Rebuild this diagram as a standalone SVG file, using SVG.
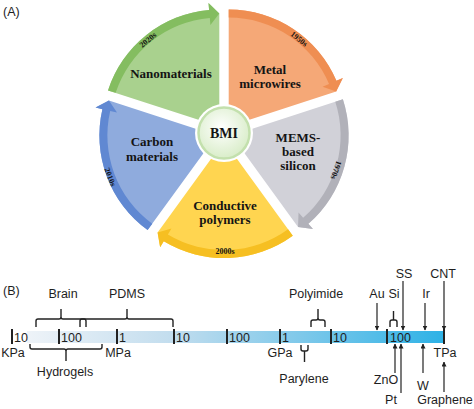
<svg xmlns="http://www.w3.org/2000/svg" width="474" height="409" viewBox="0 0 474 409">
<style>
.lab{font-family:"Liberation Serif","Times New Roman",serif;font-weight:bold;font-size:13px;fill:#141414;text-anchor:middle}
.yr{font-family:"Liberation Serif","Times New Roman",serif;font-weight:bold;font-size:8px;fill:#141414;text-anchor:middle;dominant-baseline:central}
.t{font-family:"Liberation Sans",Arial,sans-serif;font-size:12.5px;fill:#1e1e1e}
.tm{font-family:"Liberation Sans",Arial,sans-serif;font-size:12.5px;fill:#1e1e1e;text-anchor:middle}
.tk{stroke:#222;stroke-width:2}
.br{fill:none;stroke:#222;stroke-width:1.4;stroke-linejoin:round}
.ar{stroke:#222;stroke-width:1.2;fill:none}
</style>
<defs>
<marker id="ah" viewBox="0 0 10 10" refX="9" refY="5" markerWidth="5" markerHeight="5" orient="auto" markerUnits="userSpaceOnUse">
<path d="M0,0 L10,5 L0,10 Z" fill="#222"/>
</marker>
<linearGradient id="bar" x1="0" y1="0" x2="1" y2="0">
<stop offset="0" stop-color="#eef3f8"/>
<stop offset="0.35" stop-color="#c2ddee"/>
<stop offset="0.65" stop-color="#80c9ea"/>
<stop offset="1" stop-color="#2eb2e6"/>
</linearGradient>
<radialGradient id="bmi" cx="0.45" cy="0.4" r="0.6">
<stop offset="0" stop-color="#ffffff"/>
<stop offset="1" stop-color="#d9edc9"/>
</radialGradient>
</defs>

<text class="t" x="3" y="16">(A)</text>
<text class="t" x="3" y="295">(B)</text>

<g id="metal-microwires">
<path d="M228.70,126.53 L228.70,9.53 A117,117 0 0 1 336.40,80.82 L342.84,78.08 L336.17,91.61 Z" fill="#f5a877"/>
<path d="M228.70,9.53 A117,117 0 0 1 336.40,80.82 L342.84,78.08 L336.17,91.61 L322.59,86.68 L329.03,83.94 A109,109 0 0 0 228.70,17.53 Z" fill="#ef8e52"/>
<text class="lab" x="270" y="74">Metal</text>
<text class="lab" x="270" y="88">microwires</text>
<text class="yr" transform="translate(299,39) rotate(39)">1950s</text>
</g>

<g id="mems-silicon">
<path d="M231.61,135.47 L342.89,99.32 A117,117 0 0 1 308.37,223.77 L312.97,229.05 L298.03,226.89 Z" fill="#d1d1d8"/>
<path d="M342.89,99.32 A117,117 0 0 1 308.37,223.77 L312.97,229.05 L298.03,226.89 L298.53,212.45 L303.12,217.73 A109,109 0 0 0 335.28,101.79 Z" fill="#b1b1b9"/>
<text class="lab" x="298" y="142">MEMS-</text>
<text class="lab" x="298" y="156">based</text>
<text class="lab" x="298" y="170">silicon</text>
<text class="yr" transform="translate(336,170) rotate(108.5)">1970s</text>
</g>

<g id="conductive-polymers">
<path d="M224,141 L292.77,235.65 A117,117 0 0 1 163.74,241.29 L160.14,247.29 L157.58,232.42 Z" fill="#ffd550"/>
<path d="M292.77,235.65 A117,117 0 0 1 163.74,241.29 L160.14,247.29 L157.58,232.42 L171.47,228.43 L167.86,234.43 A109,109 0 0 0 288.07,229.18 Z" fill="#f6bf22"/>
<text class="lab" x="225" y="210">Conductive</text>
<text class="lab" x="225" y="224">polymers</text>
<text class="yr" x="225" y="251">2000s</text>
</g>

<g id="carbon-materials">
<path d="M216.39,135.47 L147.62,230.12 A117,117 0 0 1 102.39,109.14 L95.56,107.57 L108.92,100.55 Z" fill="#8fabdd"/>
<path d="M147.62,230.12 A117,117 0 0 1 102.39,109.14 L95.56,107.57 L108.92,100.55 L117.00,112.52 L110.18,110.94 A109,109 0 0 0 152.32,223.65 Z" fill="#6088d2"/>
<text class="lab" x="152" y="146">Carbon</text>
<text class="lab" x="152" y="161">materials</text>
<text class="yr" transform="translate(110,177) rotate(68.7)">2010s</text>
</g>

<g id="nanomaterials">
<path d="M219.30,126.53 L108.02,90.38 A117,117 0 0 1 209.10,9.97 L208.49,3.00 L219.30,13.53 Z" fill="#a9d18e"/>
<path d="M108.02,90.38 A117,117 0 0 1 209.10,9.97 L208.49,3.00 L219.30,13.53 L210.41,24.92 L209.80,17.94 A109,109 0 0 0 115.63,92.85 Z" fill="#84bd60"/>
<text class="lab" x="171" y="78">Nanomaterials</text>
<text class="yr" transform="translate(148,40) rotate(-39.5)">2020s</text>
</g>

<g id="bmi-center">
<circle cx="224" cy="133" r="29" fill="#ffffff"/>
<circle cx="224" cy="133" r="25.5" fill="url(#bmi)" stroke="#c3e0ad" stroke-width="2.5"/>
<text class="lab" x="224" y="138" style="font-size:14px">BMI</text>
</g>

<g id="scale-bar">
<rect x="27" y="331" width="417" height="12" fill="url(#bar)"/>
<line class="tk" x1="12" y1="329" x2="12" y2="344"/>
<line class="tk" x1="59" y1="329" x2="59" y2="344"/>
<line class="tk" x1="117" y1="329" x2="117" y2="344"/>
<line class="tk" x1="174" y1="329" x2="174" y2="344"/>
<line class="tk" x1="227" y1="329" x2="227" y2="344"/>
<line class="tk" x1="280" y1="329" x2="280" y2="344"/>
<line class="tk" x1="331" y1="329" x2="331" y2="344"/>
<line class="tk" x1="387" y1="329" x2="387" y2="344"/>
<line class="tk" x1="444" y1="329" x2="444" y2="344"/>
<text class="t" x="14" y="342">10</text>
<text class="t" x="61" y="342">100</text>
<text class="t" x="119" y="342">1</text>
<text class="t" x="176" y="342">10</text>
<text class="t" x="229" y="342">100</text>
<text class="t" x="282" y="342">1</text>
<text class="t" x="333" y="342">10</text>
<text class="t" x="390" y="342">100</text>
<text class="tm" x="13" y="357">KPa</text>
<text class="tm" x="118" y="357">MPa</text>
<text class="tm" x="280" y="357">GPa</text>
<text class="tm" x="445" y="357">TPa</text>
</g>

<g id="brain">
<path class="br" d="M36,327 V321 Q36,319 38,319 H59 Q61,319 61,317 V309 M61,317 Q61,319 63,319 H84 Q86,319 86,321 V327"/>
<text class="tm" x="63" y="298">Brain</text>
</g>
<g id="pdms">
<path class="br" d="M80,327 V321 Q80,319 82,319 H125 Q127,319 127,317 V309 M127,317 Q127,319 129,319 H171 Q173,319 173,321 V327"/>
<text class="tm" x="127" y="298">PDMS</text>
</g>
<g id="hydrogels">
<path class="br" d="M30,344 V347 Q30,349 32,349 H64 Q66,349 66,351 V361 M66,351 Q66,349 68,349 H100 Q102,349 102,347 V344"/>
<text class="tm" x="65" y="376">Hydrogels</text>
</g>
<g id="polyimide">
<path class="br" d="M311,327 V322 Q311,320 313,320 H316 Q318,320 318,318 V309 M318,318 Q318,320 320,320 H323 Q325,320 325,322 V327"/>
<text class="tm" x="316" y="298">Polyimide</text>
</g>
<g id="parylene">
<path class="br" d="M301,345 V349 Q301,351 303,351 H304.5 V362 M304.5,351 H306 Q308,351 308,349 V345"/>
<text class="tm" x="304" y="383">Parylene</text>
</g>
<g id="si">
<path class="br" d="M390,327 V322 Q390,320 392,320 H393.5 V311 M393.5,320 H395 Q397,320 397,322 V327"/>
<text class="tm" x="394" y="298">Si</text>
</g>
<g id="au"><text class="tm" x="377" y="298">Au</text></g>
<g id="ss"><text class="tm" x="404" y="278">SS</text></g>
<g id="ir"><text class="tm" x="426" y="298">Ir</text></g>
<g id="cnt"><text class="tm" x="443" y="278">CNT</text></g>
<g id="zno"><text class="tm" x="386" y="384">ZnO</text></g>
<g id="pt"><text class="tm" x="391" y="404">Pt</text></g>
<g id="w"><text class="tm" x="423" y="390">W</text></g>
<g id="graphene"><text class="tm" x="445" y="404">Graphene</text></g>

<g id="connectors">
<line class="ar" x1="377" y1="303" x2="377" y2="330" marker-end="url(#ah)"/>
<line class="ar" x1="403" y1="281" x2="403" y2="330" marker-end="url(#ah)"/>
<line class="ar" x1="425" y1="303" x2="425" y2="330" marker-end="url(#ah)"/>
<line class="ar" x1="444" y1="281" x2="444" y2="330" marker-end="url(#ah)"/>
<line class="ar" x1="395" y1="373" x2="395" y2="344" marker-end="url(#ah)"/>
<line class="ar" x1="401" y1="393" x2="401" y2="344" marker-end="url(#ah)"/>
<line class="ar" x1="423" y1="373" x2="423" y2="344" marker-end="url(#ah)"/>
<line class="ar" x1="444" y1="392" x2="444" y2="362" marker-end="url(#ah)"/>
</g>
</svg>
